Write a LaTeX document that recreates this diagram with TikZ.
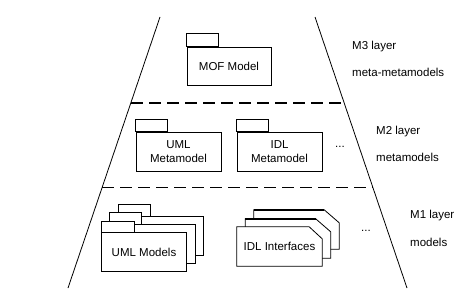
\documentclass[tikz,border=0pt]{standalone}
\usepackage{fontspec}
\setmainfont{Liberation Sans}
\usetikzlibrary{positioning}

\begin{document}
\begin{tikzpicture}[
    x=1pt, y=-1pt,
    every node/.style={font=\fontsize{11.5}{13.5}\selectfont},
    body/.style={draw, fill=white, line width=0.8pt, minimum width=85pt, minimum height=39pt, inner sep=0pt, align=center},
    tab/.style={draw, fill=white, line width=0.8pt},
    card/.style={minimum width=85pt, minimum height=39pt, inner sep=0pt},
    cardline/.style={draw, fill=white, line width=0.8pt},
    side/.style={line width=0.8pt},
    bigdash/.style={line width=2pt, dash pattern=on 12pt off 6pt},
    smalldash/.style={line width=1pt, dash pattern=on 12pt off 6pt},
    lbl/.style={anchor=west, inner sep=0pt}
]
\useasboundingbox (0,0) rectangle (474,305);

% trapezoid sides and layer borders
\coordinate (ltop) at (160,17);
\coordinate (lbot) at (68,288);
\coordinate (rtop) at (315,17);
\coordinate (rbot) at (407,288);
\draw[side] (ltop) -- (lbot);
\draw[side] (rtop) -- (rbot);
\coordinate (d1l) at (131,103);
\coordinate (d1r) at (344,103);
\coordinate (d2l) at (102,187);
\coordinate (d2r) at (373,187);
\draw[bigdash] (d1l) -- (d1r);
\draw[smalldash] (d2l) -- (d2r);

% M3
\node[body, minimum width=84pt, minimum height=38pt] (mof) at (229,66) {MOF Model};
\draw[tab] (mof.north west) rectangle ++(32pt,13pt);

% M2
\node[body] (umlmeta) at (178.5,151.5) {UML\\Metamodel};
\draw[tab] (umlmeta.north west) rectangle ++(32pt,12pt);
\node[body] (idlmeta) at (279.5,151.5) {IDL\\Metamodel};
\draw[tab] (idlmeta.north west) rectangle ++(32pt,12pt);
\node (dots2) at (340,147) {...};

% M1 - UML models stack
\node[body] (uml3) at (161,236) {};
\draw[tab] (uml3.north west) rectangle ++(32pt,12pt);
\node[body] (uml2) at ([xshift=-8.5pt,yshift=-8pt]uml3.center) {};
\draw[tab] (uml2.north west) rectangle ++(32pt,12pt);
\node[body] (uml1) at ([xshift=-8.5pt,yshift=-8pt]uml2.center) {UML Models};
\draw[tab] (uml1.north west) rectangle ++(33pt,11pt);

% M1 - IDL interfaces stack
\node[card] (idl3) at (296.5,229.5) {};
\draw[cardline] (idl3.south west) -- (idl3.north west) -- ([xshift=-15pt]idl3.north east) -- ([yshift=-13pt]idl3.north east) -- (idl3.south east) -- cycle;
\draw[line width=1.4pt] (idl3.north west) -- ([xshift=-15pt]idl3.north east);
\node[card] (idl2) at ([xshift=-8.5pt,yshift=-9pt]idl3.center) {};
\draw[cardline] (idl2.south west) -- (idl2.north west) -- ([xshift=-15pt]idl2.north east) -- ([yshift=-13pt]idl2.north east) -- (idl2.south east) -- cycle;
\draw[line width=1.4pt] (idl2.north west) -- ([xshift=-15pt]idl2.north east);
\node[card] (idl1) at ([xshift=-8.5pt,yshift=-8pt]idl2.center) {};
\draw[cardline] (idl1.south west) -- (idl1.north west) -- ([xshift=-13pt]idl1.north east) -- ([yshift=-12pt]idl1.north east) -- (idl1.south east) -- cycle;
\node (idltxt) at (idl1.center) {IDL Interfaces};
\node (dots1) at (366,231) {...};

% layer labels
\node[lbl] (m3) at (352,47) {M3 layer};
\node[lbl] (m3sub) at (352,72) {meta-metamodels};
\node[lbl] (m2) at (376,132) {M2 layer};
\node[lbl] (m2sub) at (376,157) {metamodels};
\node[lbl] (m1) at (410,216) {M1 layer};
\node[lbl] (m1sub) at (410,242) {models};
\end{tikzpicture}
\end{document}
